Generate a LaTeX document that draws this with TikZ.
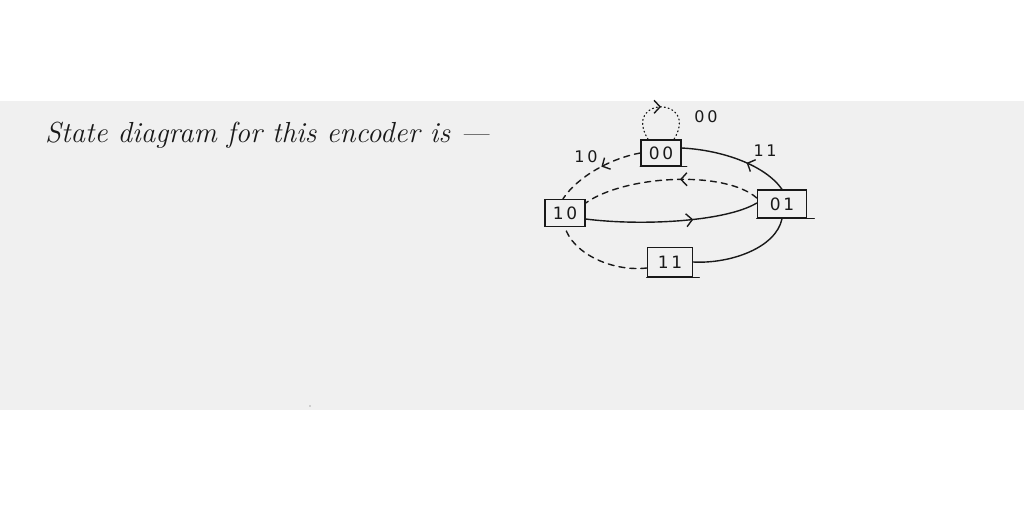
\documentclass[tikz,border=0pt]{standalone}
\usepackage{fontspec}
\newfontfamily\handfont{DejaVu Sans}
\usetikzlibrary{arrows.meta,decorations.markings}
\definecolor{band}{RGB}{240,240,240}
\definecolor{ink}{RGB}{25,25,25}
\tikzset{
  x=1pt,y=-1pt,
  ink line/.style={draw=ink,line width=1.4pt,line cap=round},
  solidedge/.style={ink line},
  dashedge/.style={ink line,dash pattern=on 6pt off 5pt},
  dotedge/.style={ink line,line width=1.2pt,dash pattern=on 1pt off 3pt},
  midtip/.style={postaction={decorate},decoration={markings,
     mark=at position #1 with {\arrow[ink,line width=1.4pt]{Straight Barb[length=6pt,width=13pt]}}}},
  state/.style={draw=ink,line width=1.4pt,inner sep=0pt,font=\handfont\fontsize{17}{17}\selectfont,text=ink},
  lbl/.style={font=\handfont\fontsize{16}{16}\selectfont,text=ink,inner sep=0pt}
}
\begin{document}
\begin{tikzpicture}
\useasboundingbox (0,0) rectangle (1024,512);
\fill[white] (0,0) rectangle (1024,512);
\fill[band] (0,101) rectangle (1024,410);
\fill[ink!70] (310,406) circle (0.7);

\node[anchor=base west,inner sep=0pt,text=ink,font=\itshape\fontsize{29}{32}\selectfont] (title) at (45,142) {State diagram for this encoder is ---};

\node[state,minimum width=40pt,minimum height=26pt] (n00) at (661,153) {0\,0};
\node[state,minimum width=49pt,minimum height=28pt] (n01) at (782,204) {0\,1};
\node[state,minimum width=40pt,minimum height=27pt] (n10) at (565,213) {1\,0};
\node[state,minimum width=45pt,minimum height=29pt] (n11) at (670,262) {1\,1};

% underlines extending to the right
\draw[ink line] (n00.south west) -- ([xshift=5pt]n00.south east);
\draw[ink line] (n01.south west) -- ([xshift=7pt]n01.south east);
\draw[ink line] (n11.south west) -- ([xshift=6pt]n11.south east);

% self loop on 00
\draw[dotedge,midtip=0.5] ([xshift=-13pt]n00.north) .. controls (622,96) and (700,96) .. ([xshift=13pt]n00.north);
\node[lbl] (l00) at (706,117) {0\,0};

% 00 -> 10 dashed
\draw[dashedge,midtip=0.45] (n00.west) .. controls (612,158) and (578,176) .. ([xshift=-2pt]n10.north);
\node[lbl] (l10) at (586,157) {1\,0};

% 01 -> 00 solid
\draw[solidedge,midtip=0.4] (n01.north) .. controls (765,165) and (722,150) .. ([yshift=5pt]n00.east);
\node[lbl] (l11) at (765,151) {1\,1};

% 01 -> 10 dashed
\draw[dashedge,midtip=0.45] ([yshift=6pt]n01.west) .. controls (725,170) and (625,175) .. ([yshift=10pt]n10.east);

% 10 -> 01 solid
\draw[solidedge,midtip=0.62] ([yshift=-6pt]n10.east) .. controls (640,226) and (725,222) .. ([yshift=1pt]n01.west);

% 01 -> 11 solid
\draw[solidedge] (n01.south) .. controls (776,248) and (730,264) .. (n11.east);

% 11 -> 10 dashed
\draw[dashedge] ([yshift=-6pt]n11.west) .. controls (610,272) and (572,252) .. (n10.south);
\end{tikzpicture}
\end{document}
